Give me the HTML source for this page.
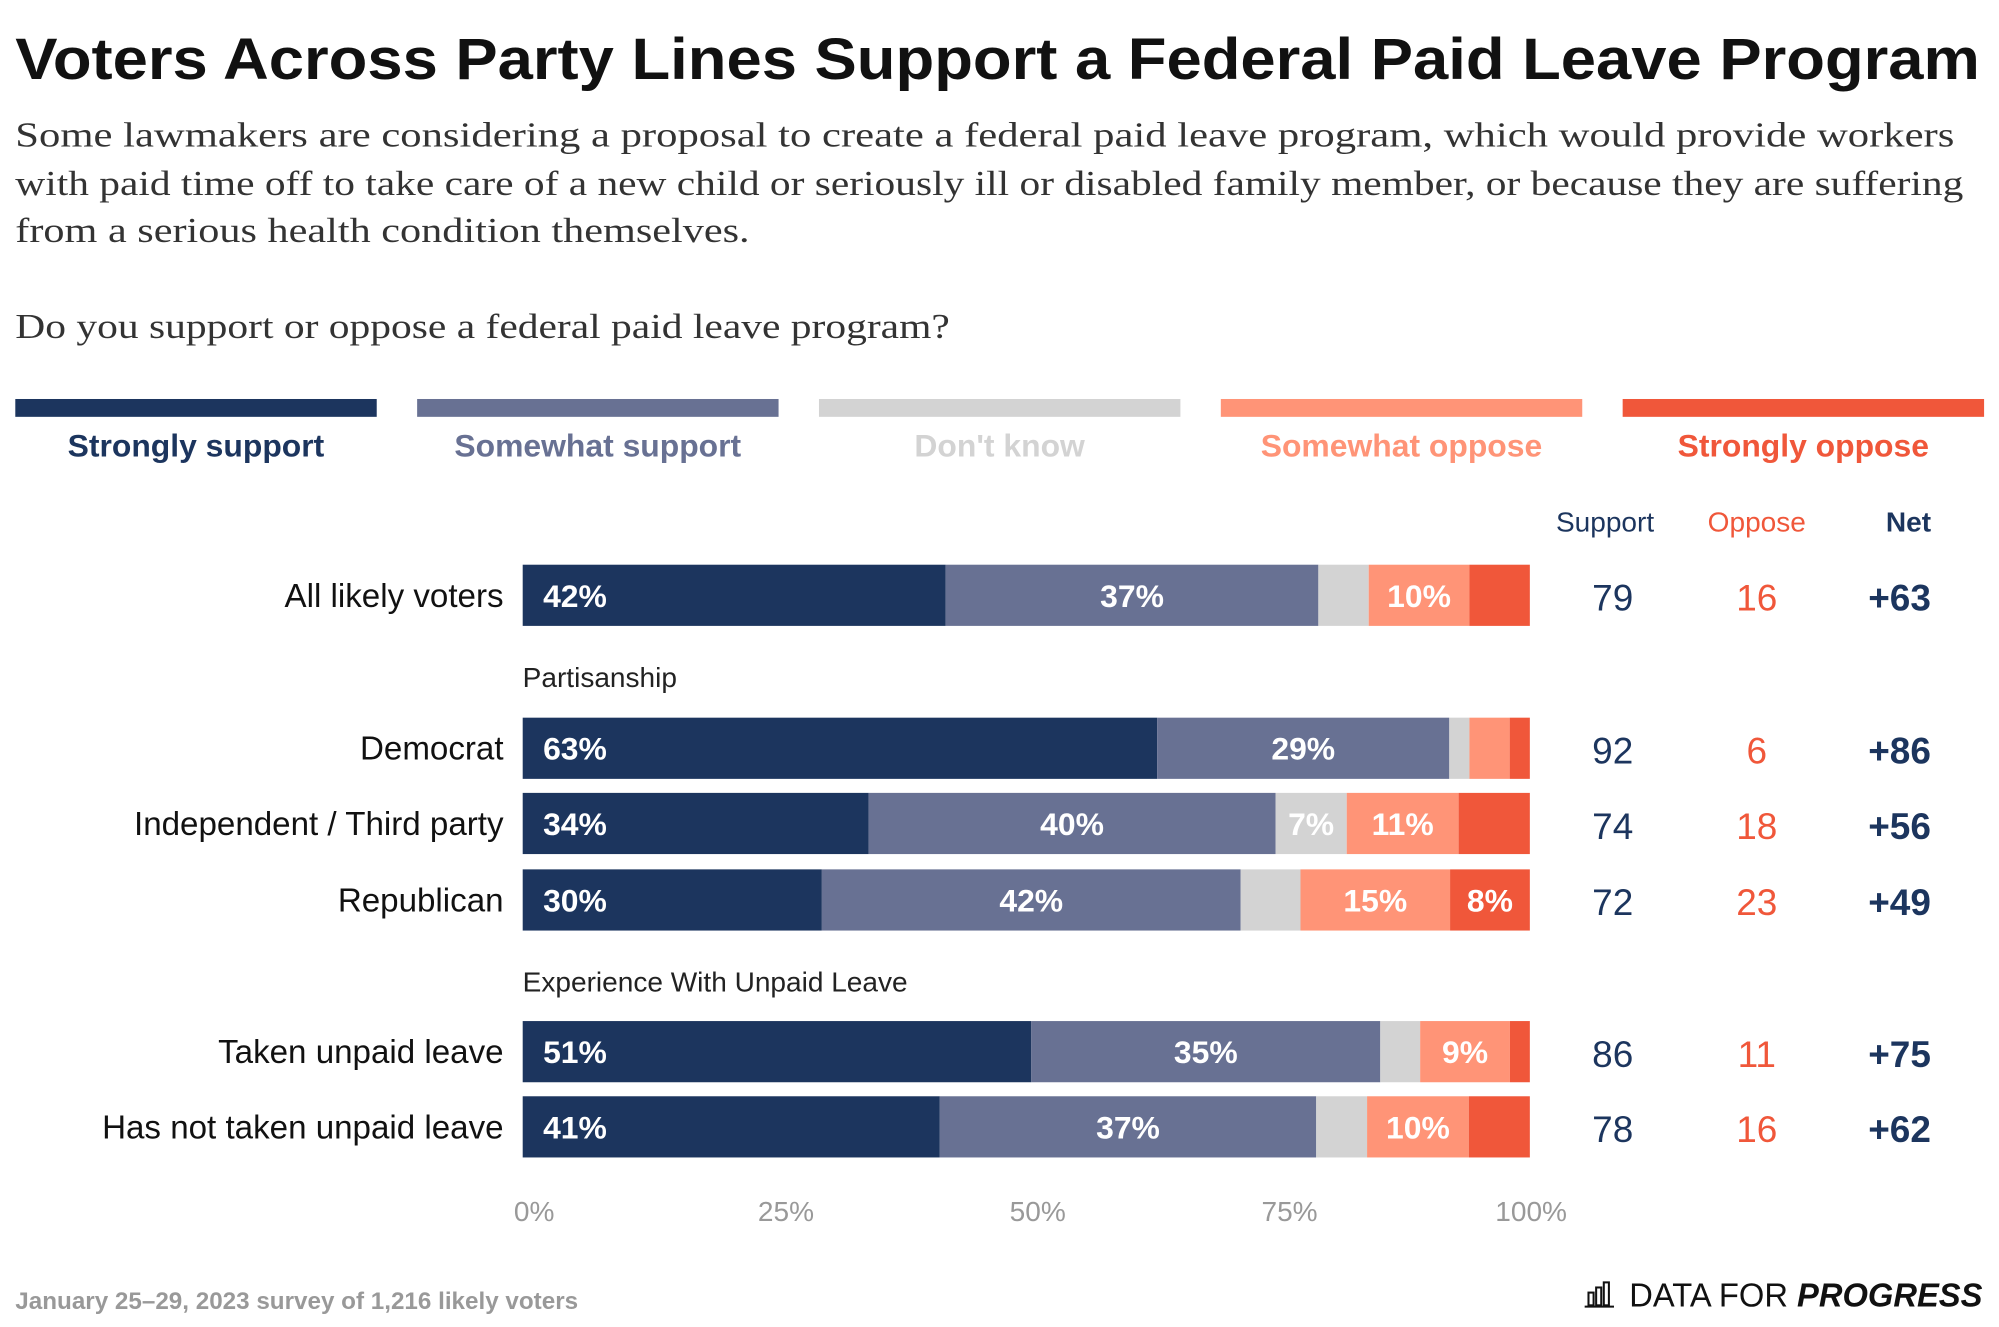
<!DOCTYPE html>
<html><head><meta charset="utf-8">
<style>
html,body{margin:0;padding:0;background:#fff;}
svg{display:block;}
text{font-family:"Liberation Sans",sans-serif;}
.serif{font-family:"Liberation Serif",serif;}
</style></head>
<body>
<svg id="chart" width="1999" height="1327" viewBox="0 0 1568 1041" preserveAspectRatio="none" xmlns="http://www.w3.org/2000/svg">
<text x="12" y="62" font-size="46" font-weight="bold" fill="#111" textLength="1541" lengthAdjust="spacingAndGlyphs">Voters Across Party Lines Support a Federal Paid Leave Program</text>
<g class="serif" fill="#333" font-size="27">
<text class="serif" x="12" y="115" textLength="1521" lengthAdjust="spacingAndGlyphs">Some lawmakers are considering a proposal to create a federal paid leave program, which would provide workers</text>
<text class="serif" x="12" y="153" textLength="1528" lengthAdjust="spacingAndGlyphs">with paid time off to take care of a new child or seriously ill or disabled family member, or because they are suffering</text>
<text class="serif" x="12" y="190" textLength="576" lengthAdjust="spacingAndGlyphs">from a serious health condition themselves.</text>
<text class="serif" x="12" y="265" textLength="733" lengthAdjust="spacingAndGlyphs">Do you support or oppose a federal paid leave program?</text>
</g>
<g id="legend"></g>
<g font-size="22">
<text x="1259" y="417" text-anchor="middle" fill="#1c355e">Support</text>
<text x="1378" y="417" text-anchor="middle" fill="#f0573a">Oppose</text>
<text x="1497" y="417" text-anchor="middle" fill="#1c355e" font-weight="bold">Net</text>
</g>
<text x="410" y="539" font-size="22" fill="#222">Partisanship</text>
<text x="410" y="778" font-size="22" fill="#222">Experience With Unpaid Leave</text>
<g id="bars"></g>
<g id="axis"></g>
<text x="12" y="1027" font-size="19" font-weight="bold" fill="#999">January 25–29, 2023 survey of 1,216 likely voters</text>
<g>
<g fill="none" stroke="#111" stroke-width="1.6"><rect x="1246" y="1014" width="4" height="10"/><rect x="1252" y="1010" width="4" height="14"/><rect x="1258" y="1006" width="4" height="18"/><line x1="1243" y1="1025" x2="1266" y2="1025"/></g>
<text x="1278" y="1025" font-size="26" fill="#111" textLength="277" lengthAdjust="spacingAndGlyphs">DATA FOR <tspan font-weight="bold" font-style="italic">PROGRESS</tspan></text>
</g>
</svg>
<script>
const categories = ["All likely voters","Democrat","Independent / Third party","Republican","Taken unpaid leave","Has not taken unpaid leave"];
const strongSupport = [42,63,34,30,51,41];
const someSupport = [37,29,40,42,35,37];
const dontKnow = [5,2,7,6,4,5];
const someOppose = [10,4,11,15,9,10];
const strongOppose = [6,2,7,8,2,6];
const supportTotals = [79,92,74,72,86,78];
const opposeTotals = [16,6,18,23,11,16];
const netValues = ["+63","+86","+56","+49","+75","+62"];
const ticks = [0,25,50,75,100];
const legendLabels = ["Strongly support","Somewhat support","Don't know","Somewhat oppose","Strongly oppose"];

const NS = "http://www.w3.org/2000/svg";
const colors = ["#1c355e","#687193","#d3d3d3","#ff9477","#f0573a"];
const rowTops = [443,563,622,682,801,860];
const X0 = 410, W = 790, BH = 48;
const xScale = v => X0 + v / 100 * W;
function mk(tag, attrs, parent){const e=document.createElementNS(NS,tag);for(const k in attrs)e.setAttribute(k,attrs[k]);parent.appendChild(e);return e;}

const leg = document.getElementById('legend');
legendLabels.forEach((l,i)=>{
  const lx = 12 + i*315.2;
  const r = mk('rect',{x:lx,y:313,width:283.5,height:14,fill:colors[i]},leg);
  
  
  const t = mk('text',{x:lx+141.7,y:358,'text-anchor':'middle','font-size':25,'font-weight':'bold',fill:colors[i]},leg);
  
  
  t.textContent = l;
});

const bars = document.getElementById('bars');
const series = [strongSupport,someSupport,dontKnow,someOppose,strongOppose];
categories.forEach((c,i)=>{
  const y = rowTops[i];
  const lab = mk('text',{x:395,y:y+33,'text-anchor':'end','font-size':26,fill:'#111'},bars);
  
  
  lab.textContent = c;
  const vals = series.map(s=>s[i]);
  const sum = vals.reduce((a,b)=>a+b,0);
  let acc = 0;
  vals.forEach((v,j)=>{
    const xa = xScale(acc/sum*100), xb = xScale((acc+v)/sum*100);
    const r = mk('rect',{x:xa,y:y,width:xb-xa,height:BH,fill:colors[j]},bars);
    
    
    if (v >= 7 && (j !== 4 || v >= 8)) {
      const t = mk('text',{x:j===0?xa+16:(xa+xb)/2,y:y+33,'text-anchor':j===0?'start':'middle','font-size':25,'font-weight':'bold',fill:'#fff'},bars);
      
      
      t.textContent = v + '%';
    }
    acc += v;
  });
  const s = mk('text',{x:1265,y:y+36,'text-anchor':'middle','font-size':29,fill:'#1c355e'},bars);
  
  
  s.textContent = supportTotals[i];
  const o = mk('text',{x:1378,y:y+36,'text-anchor':'middle','font-size':29,fill:'#f0573a'},bars);
  
  
  o.textContent = opposeTotals[i];
  const n = mk('text',{x:1490,y:y+36,'text-anchor':'middle','font-size':29,'font-weight':'bold',fill:'#1c355e'},bars);
  
  
  n.textContent = netValues[i];
});

const ax = document.getElementById('axis');
ticks.forEach(t=>{
  const e = mk('text',{x:xScale(t)+(t===100?1:9),y:958,'text-anchor':'middle','font-size':22,fill:'#999'},ax);
  
  
  e.textContent = t + '%';
});
</script>
</body></html>
